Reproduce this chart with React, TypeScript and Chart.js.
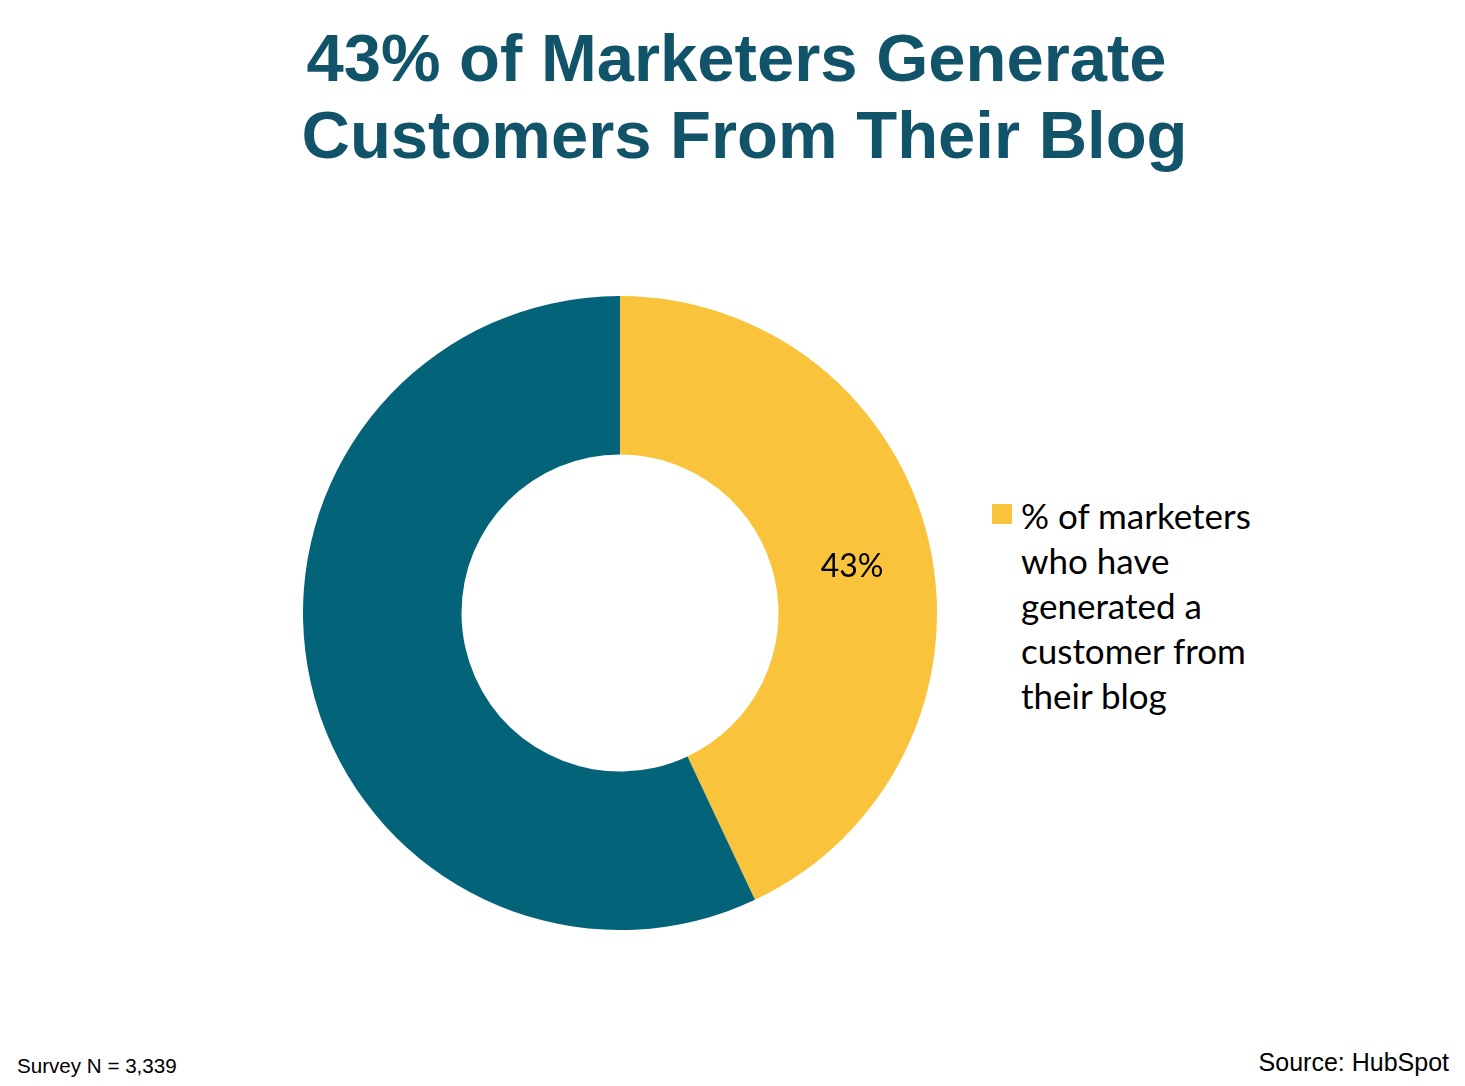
import { useEffect, useRef } from "react";
import { Chart, registerables, Plugin } from "chart.js";

Chart.register(...registerables);

const categories = [
  "% of marketers who have generated a customer from their blog",
  "Other marketers",
];
const values = [43, 57];
const sliceColors = ["#F9C33B", "#036479"];
const legendLines = ["% of marketers", "who have", "generated a", "customer from", "their blog"];
const titleLines = ["43% of Marketers Generate", "Customers From Their Blog"];

// Draws the percentage label only on the first (yellow) slice
const sliceLabel: Plugin<"doughnut"> = {
  id: "sliceLabel",
  afterDatasetsDraw(chart) {
    const ctx = chart.ctx;
    const arc = chart.getDatasetMeta(0).data[0];
    if (!arc) return;
    const pos = arc.tooltipPosition(false);
    ctx.save();
    ctx.font = "32px Lato";
    ctx.fillStyle = "#000";
    ctx.textAlign = "center";
    ctx.textBaseline = "alphabetic";
    ctx.fillText(values[0] + "%", pos.x, pos.y + 16);
    ctx.restore();
  },
};

export default function App() {
  const canvasRef = useRef<HTMLCanvasElement>(null);

  useEffect(() => {
    if (!canvasRef.current) return;
    const chart = new Chart(canvasRef.current, {
      type: "doughnut",
      data: {
        labels: categories,
        datasets: [
          {
            data: values,
            backgroundColor: sliceColors,
            borderWidth: 0,
          },
        ],
      },
      options: {
        animation: false,
        responsive: true,
        maintainAspectRatio: false,
        cutout: "50%",
        layout: { padding: 0 },
        plugins: {
          legend: { display: false },
          tooltip: { enabled: false },
        },
      },
      plugins: [sliceLabel],
    });
    return () => chart.destroy();
  }, []);

  return (
    <div
      style={{
        position: "absolute",
        left: 0,
        top: 0,
        width: 1465,
        height: 1086,
        background: "#fff",
        overflow: "hidden",
      }}
    >
      {titleLines.map((line, i) => (
        <div
          key={line}
          style={{
            position: "absolute",
            left: i === 0 ? 4 : 12,
            top: i === 0 ? 24 : 101,
            width: 1465,
            textAlign: "center",
            font: "bold 67px 'Liberation Sans', Arial, sans-serif",
            lineHeight: "67px",
            color: "#11546A",
            whiteSpace: "nowrap",
          }}
        >
          {line}
        </div>
      ))}

      <div style={{ position: "absolute", left: 303, top: 296, width: 634, height: 634 }}>
        <canvas ref={canvasRef} />
      </div>

      <div
        style={{
          position: "absolute",
          left: 992,
          top: 504,
          width: 20,
          height: 20,
          background: sliceColors[0],
        }}
      />
      <div
        style={{
          position: "absolute",
          left: 1021,
          top: 493,
          font: "35px Lato, sans-serif",
          lineHeight: "45px",
          color: "#000",
          whiteSpace: "nowrap",
        }}
      >
        {legendLines.map((l) => (
          <div key={l}>{l}</div>
        ))}
      </div>

      <div
        style={{
          position: "absolute",
          left: 17,
          top: 1056,
          font: "20.6px 'Liberation Sans', Arial, sans-serif",
          lineHeight: "20px",
          color: "#000",
          whiteSpace: "nowrap",
        }}
      >
        Survey N = 3,339
      </div>
      <div
        style={{
          position: "absolute",
          right: 16,
          top: 1050,
          font: "25px 'Liberation Sans', Arial, sans-serif",
          lineHeight: "24px",
          color: "#000",
          whiteSpace: "nowrap",
        }}
      >
        Source: HubSpot
      </div>
    </div>
  );
}
